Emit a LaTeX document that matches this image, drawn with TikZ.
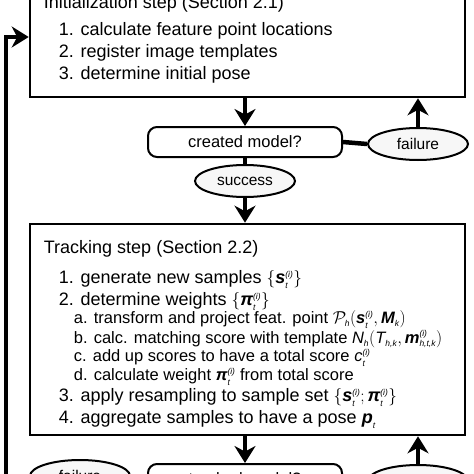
\documentclass[tikz,border=0pt]{standalone}
\usepackage{amsmath}
\usepackage{fontspec}
\setmainfont{Liberation Sans}
\usetikzlibrary{arrows.meta,shapes.geometric}

\newcommand{\vb}[1]{\text{\bfseries\itshape #1}}
\newcommand{\vi}[1]{\text{\itshape #1}}
\newcommand{\vs}[1]{\mbox{\fontsize{8.5}{9}\selectfont\itshape #1}}

\tikzset{
  stepbox/.style={draw, line width=2.6pt, rectangle, minimum width=435pt, inner sep=0pt},
  steptext/.style={align=left, anchor=north west, inner sep=0pt, font=\fontsize{18}{22}\selectfont},
  askbox/.style={draw, line width=2pt, rounded corners=9pt, minimum width=194pt, minimum height=30pt, font=\fontsize{16.5}{18}\selectfont},
  outcome/.style={draw, line width=2pt, ellipse, fill=gray!6, minimum width=100pt, minimum height=32pt, inner sep=0pt, font=\fontsize{15.5}{17}\selectfont},
  flow/.style={line width=4.5pt},
}

\begin{document}
\begin{tikzpicture}[x=1pt,y=-1pt,>={Stealth[length=17pt,width=21pt]}]
\useasboundingbox (0,0) rectangle (474,474);

% the two steps
\node[stepbox, minimum height=120pt] (init) at (247.5,37) {};
\node[steptext] (inittext) at ([shift={(15,20)}]init.north west) {Initialization step (Section 2.1)\\[5pt]
\hspace*{15pt}1. calculate feature point locations\\
\hspace*{15pt}2. register image templates\\
\hspace*{15pt}3. determine initial pose};

\node[stepbox, minimum height=211pt] (track) at (247.5,329.5) {};
\node[steptext] (tracktext) at ([shift={(15,18)}]track.north west) {Tracking step (Section 2.2)\\[8pt]
\hspace*{15pt}1. generate new samples $\{\vb{s}^{\vs{(i)}}_{\vs{t}}\}$\\
\hspace*{15pt}2. determine weights $\{\vb{π}^{\vs{(i)}}_{\vs{t}}\}$\\[-4pt]
\hspace*{30pt}{\fontsize{16.5}{20}\selectfont a. transform and project feat. point $\mathcal{P}_{\vs{h}}(\vb{s}^{\vs{(i)}}_{\vs{t}},\vb{M}_{\vs{k}})$}\\[-2pt]
\hspace*{30pt}{\fontsize{16.5}{20}\selectfont b. calc. matching score with template $\vi{N}_{\vs{h}}(\vi{T}_{\vs{h,k}},\vb{m}^{\vs{(i)}}_{\vs{h,t,k}})$}\\[-4pt]
\hspace*{30pt}{\fontsize{16.5}{20}\selectfont c. add up scores to have a total score $\vi{c}^{\vs{(i)}}_{\vs{t}}$}\\[-3pt]
\hspace*{30pt}{\fontsize{16.5}{20}\selectfont d. calculate weight $\vb{π}^{\vs{(i)}}_{\vs{t}}$ from total score}\\[-1pt]
\hspace*{15pt}3. apply resampling to sample set $\{\vb{s}^{\vs{(i)}}_{\vs{t}};\vb{π}^{\vs{(i)}}_{\vs{t}}\}$\\
\hspace*{15pt}4. aggregate samples to have a pose $\vb{p}_{\vs{t}}$};

% decisions
\node[askbox] (created) at (245,142) {created model?};
\node[outcome] (fail) at (418,144) {failure};
\node[outcome] (succ) at (245,181) {success};
\node[askbox] (tracked) at (245,479) {tracked model?};
\node[outcome] (lost) at (80,476) {failure};
\node[outcome] (kept) at (418,481) {success};
\coordinate (loopcorner) at (6,510);

\draw[flow,->] (created.north |- init.south) -- (created.north);
\draw[flow] (created.east) -- (fail.west);
\draw[flow,->] (fail.north) -- (fail.north |- init.south);
\draw[flow] (created.south) -- (succ.north);
\draw[flow,->] (succ.south) -- (succ.south |- track.north);
\draw[flow,->] (tracked.north |- track.south) -- (tracked.north);
\draw[flow,->] (kept.north) -- (kept.north |- track.south);
\draw[flow,->] (lost.south) |- (loopcorner) |- (init.west);
\end{tikzpicture}
\end{document}
